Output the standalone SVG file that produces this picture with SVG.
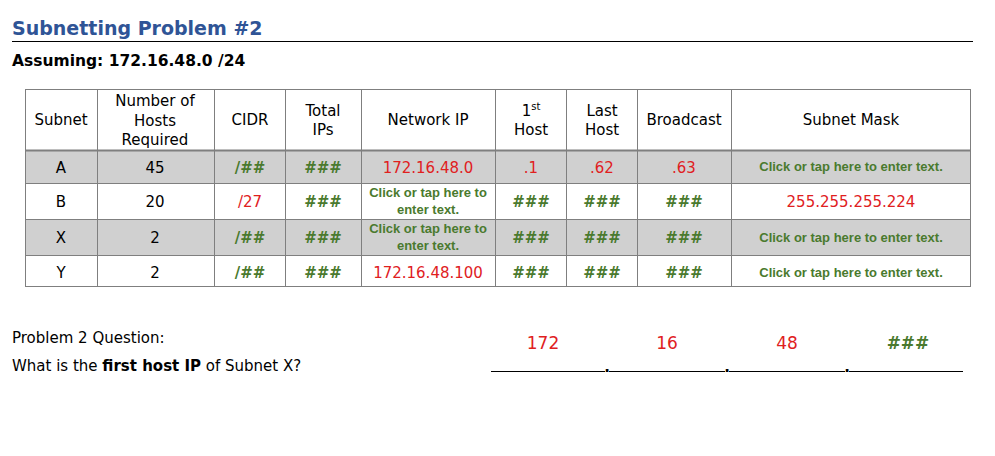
<svg xmlns="http://www.w3.org/2000/svg" width="995" height="456" viewBox="0 0 995 456">
<style>
text{font-family:"DejaVu Sans","Verdana",sans-serif;font-size:15px;fill:#000}
.c{text-anchor:middle}
.r{fill:#e0201e}
.g{fill:#4a7a2e;font-weight:bold}
.s{font-family:"Liberation Sans",Arial,sans-serif;font-size:13px;fill:#4a7a2e;font-weight:bold;text-anchor:middle}
.ln{stroke:#7f7f7f;stroke-width:1;fill:none}
</style>
<rect width="995" height="456" fill="#fff"/>
<text x="12" y="35" style="font-size:19px;font-weight:bold;fill:#2F5496">Subnetting Problem #2</text>
<line x1="12" y1="41.5" x2="973" y2="41.5" stroke="#000" stroke-width="1"/>
<text x="12" y="66" style="font-size:15.5px;font-weight:bold">Assuming:  172.16.48.0 /24</text>
<g id="table">
<rect x="25" y="150" width="946" height="33" fill="#d0d0d0"/>
<rect x="25" y="219" width="946" height="36" fill="#d0d0d0"/>
<rect x="25.5" y="89.5" width="945" height="197" class="ln"/>
<path class="ln" d="M97.5 89v198M214.5 89v198M285.5 89v198M361.5 89v198M495.5 89v198M566.5 89v198M637.5 89v198M731.5 89v198M25 183.5h946M25 219.5h946M25 255.5h946"/>
<line x1="25" y1="150.5" x2="971" y2="150.5" stroke="#7f7f7f" stroke-width="2"/>
<g class="c">
<text x="61" y="125" class="c">Subnet</text>
<text x="155" y="106" class="c">Number of</text><text x="155" y="126" class="c">Hosts</text><text x="155" y="145" class="c">Required</text>
<text x="250" y="125" class="c">CIDR</text>
<text x="323" y="116" class="c">Total</text><text x="323" y="135" class="c">IPs</text>
<text x="428" y="125" class="c">Network IP</text>
<text x="531" y="116" class="c">1<tspan style="font-size:10px" dy="-6">st</tspan></text><text x="531" y="135" class="c">Host</text>
<text x="602" y="116" class="c">Last</text><text x="602" y="135" class="c">Host</text>
<text x="684" y="125" class="c">Broadcast</text>
<text x="851" y="125" class="c">Subnet Mask</text>
</g>
<text x="61" y="173" class="c">A</text><text x="155" y="173" class="c">45</text>
<text x="250" y="173" class="c g">/##</text><text x="323" y="173" class="c g">###</text>
<text x="428" y="173" class="c r">172.16.48.0</text><text x="531" y="173" class="c r">.1</text><text x="602" y="173" class="c r">.62</text><text x="684" y="173" class="c r">.63</text>
<text x="851" y="171" class="s">Click or tap here to enter text.</text>
<text x="61" y="207" class="c">B</text><text x="155" y="207" class="c">20</text>
<text x="250" y="207" class="c r">/27</text><text x="323" y="207" class="c g">###</text>
<text x="428" y="197" class="s">Click or tap here to</text><text x="428" y="214" class="s">enter text.</text>
<text x="531" y="207" class="c g">###</text><text x="602" y="207" class="c g">###</text><text x="684" y="207" class="c g">###</text>
<text x="851" y="207" class="c r">255.255.255.224</text>
<text x="61" y="243" class="c">X</text><text x="155" y="243" class="c">2</text>
<text x="250" y="243" class="c g">/##</text><text x="323" y="243" class="c g">###</text>
<text x="428" y="233" class="s">Click or tap here to</text><text x="428" y="250" class="s">enter text.</text>
<text x="531" y="243" class="c g">###</text><text x="602" y="243" class="c g">###</text><text x="684" y="243" class="c g">###</text>
<text x="851" y="242" class="s">Click or tap here to enter text.</text>
<text x="61" y="278" class="c">Y</text><text x="155" y="278" class="c">2</text>
<text x="250" y="278" class="c g">/##</text><text x="323" y="278" class="c g">###</text>
<text x="428" y="278" class="c r">172.16.48.100</text>
<text x="531" y="278" class="c g">###</text><text x="602" y="278" class="c g">###</text><text x="684" y="278" class="c g">###</text>
<text x="851" y="277" class="s">Click or tap here to enter text.</text>
</g>
<text x="12" y="343">Problem 2 Question:</text>
<text x="12" y="371">What is the <tspan font-weight="bold">first host IP</tspan> of Subnet X?</text>
<g id="answer">
<text x="543" y="349" class="c r" style="font-size:17px">172</text>
<text x="667" y="349" class="c r" style="font-size:17px">16</text>
<text x="787" y="349" class="c r" style="font-size:17px">48</text>
<text x="908" y="349" class="c g" style="font-size:17px">###</text>
<path d="M491 371.5h114M609 371.5h116M729 371.5h116M849 371.5h114" stroke="#000" stroke-width="1"/>
<text x="607" y="372" class="c" style="font-weight:bold">.</text><text x="727" y="372" class="c" style="font-weight:bold">.</text><text x="847" y="372" class="c" style="font-weight:bold">.</text>
</g>
</svg>
